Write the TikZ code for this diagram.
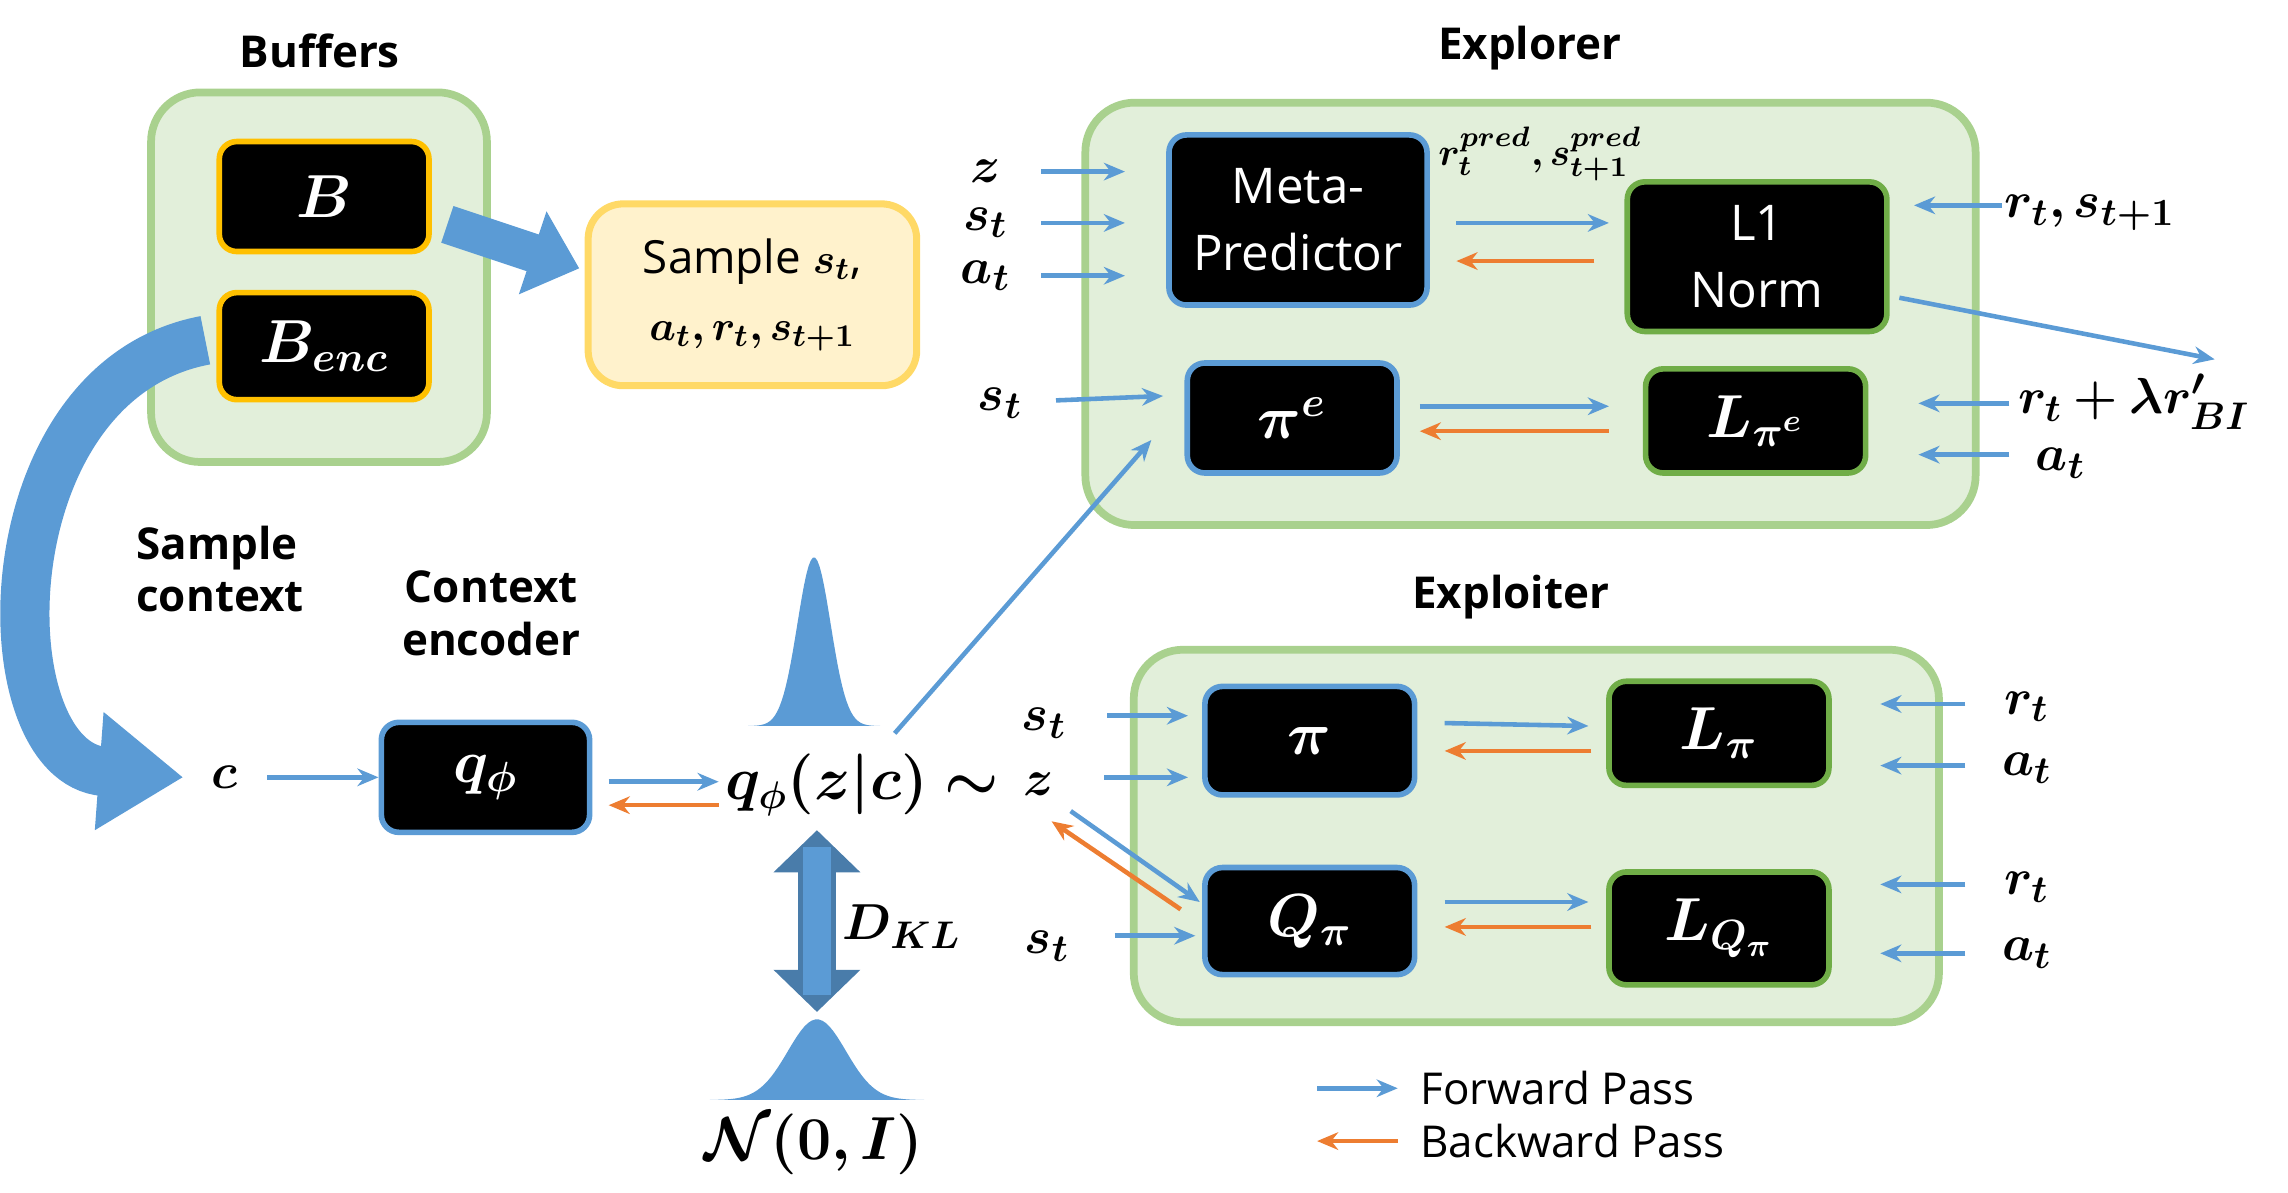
\documentclass[tikz,border=0pt]{standalone}
\usepackage{amsmath,bm}
\usepackage{fontspec}
\setmainfont{Open Sans}
\usetikzlibrary{arrows.meta}
\definecolor{gfill}{HTML}{E2EFDA}
\definecolor{gbord}{HTML}{A9D18E}
\definecolor{bl}{HTML}{5B9BD5}
\definecolor{orr}{HTML}{ED7D31}
\definecolor{gold}{HTML}{FFC000}
\definecolor{grn}{HTML}{70AD47}
\definecolor{ylf}{HTML}{FFF2CC}
\definecolor{ylb}{HTML}{FFD966}
\newcommand{\mb}[1]{$\bm{#1}$}
\begin{document}
\begin{tikzpicture}[x={(0.014667cm,0)},y={(0,-0.014667cm)},
 grp/.style={fill=gfill,draw=gbord,line width=2.2pt,rounded corners=14pt},
 blk/.style={fill=black,line width=1.6pt,rounded corners=5pt,text=white,font=\fontsize{18}{20}\selectfont},
 bb/.style={blk,draw=bl},gb/.style={blk,draw=grn},ob/.style={blk,draw=gold},
 txt/.style={font=\fontsize{12.5}{15}\selectfont\bfseries,align=center},
 mt/.style={font=\fontsize{15}{17}\selectfont},
 fw/.style={draw=bl,line width=1.3pt,-{Stealth[length=6pt,width=5pt]}},
 bw/.style={draw=orr,line width=1.3pt,-{Stealth[length=6pt,width=5pt]}}]
\useasboundingbox (0,0) rectangle (1560,813);
% Buffers
\node[txt] (tbuf) at (218,35) {Buffers};
\draw[grp] (103,63) rectangle (332,315);
\node[ob,minimum width=143*0.014667cm,minimum height=75*0.014667cm] (B) at (221,134) {\mb{B}};
\node[ob,minimum width=143*0.014667cm,minimum height=73*0.014667cm] (Benc) at (221,236) {\mb{B_{enc}}};
\node[fill=ylf,draw=ylb,line width=2pt,rounded corners=10pt,minimum width=224*0.014667cm,minimum height=124*0.014667cm,txt,font=\fontsize{13}{19}\selectfont] (samp) at (513,201) {Sample \mb{s_t},\\ \mb{a_t, r_t, s_{t+1}}};
\draw[bl,line width=11pt,-{Triangle[width=24pt,length=14pt]}] (305,153) -- (395,183);
\draw[bl,line width=14pt,-{Triangle[width=32pt,length=24pt]}] (140,232) .. controls (-10,260) and (-10,520) .. (125,530);
\node[txt,align=left] (sc) at (150,388) {Sample\\context};
\node[txt] (ce) at (335,418) {Context\\encoder};
\node[mt] (c) at (153,530) {\mb{c}};
\node[bb,minimum width=142*0.014667cm,minimum height=75*0.014667cm] (q) at (331,530) {\mb{q_\phi}};
\draw[fw] (c.east)++(12,0) -- (q.west);
\draw[fw] (415,533) -- (490,533);
\draw[bw] (490,549) -- (415,549);
\node[mt,font=\fontsize{16}{18}\selectfont] (qz) at (588,535) {\mb{q_\phi(z|c)\sim}};
\fill[bl] plot[domain=-45:45,samples=60] ({555+\x},{495-115*exp(-(\x/16)^2)}) -- cycle;
\fill[bl] plot[domain=-73:73,samples=60] ({557+\x},{750-55*exp(-(\x/28)^2)}) -- cycle;
\draw[bl!80!black,line width=11pt,{Triangle[width=24pt,length=12pt]}-{Triangle[width=24pt,length=12pt]}] (557,566) -- (557,690);
\draw[bl,line width=8pt,shorten <=2pt,shorten >=2pt] (557,573) -- (557,683);
\node[mt] (dkl) at (615,632) {\mb{D_{KL}}};
\node[mt,font=\fontsize{16}{18}\selectfont] (nn) at (555,780) {\mb{\mathcal{N}(0,I)}};
% Explorer
\node[txt] (texp) at (1043,33) {Explorer};
\draw[grp] (740,70) rectangle (1347,358);
\node[bb,minimum width=176*0.014667cm,minimum height=116*0.014667cm,align=center,font=\fontsize{14}{19}\selectfont] (mp) at (885,150) {Meta-\\Predictor};
\node[gb,minimum width=177*0.014667cm,minimum height=102*0.014667cm,align=center,font=\fontsize{14}{19}\selectfont] (l1) at (1198,175) {L1\\Norm};
\node[bb,minimum width=143*0.014667cm,minimum height=75*0.014667cm] (pie) at (881,285) {\mb{\pi^e}};
\node[gb,minimum width=150*0.014667cm,minimum height=71*0.014667cm] (lpie) at (1197,287) {\mb{L_{\pi^e}}};
\node[mt] (iz) at (672,117) {\mb{z}};
\node[mt] (is) at (672,152) {\mb{s_t}};
\node[mt] (ia) at (672,188) {\mb{a_t}};
\foreach \n/\y in {iz/117,is/152,ia/188} \draw[fw] (710,\y) -- (767,\y);
\node[font=\fontsize{11}{13}\selectfont] (pred) at (1050,105) {\mb{r_t^{pred},s_{t+1}^{pred}}};
\draw[fw] (993,152) -- (1097,152);
\draw[bw] (1087,178) -- (993,178);
\node[mt] (rs) at (1425,145) {\mb{r_t, s_{t+1}}};
\draw[fw] (1365,140) -- (1305,140);
\draw[fw] (1295,203) -- (1510,245);
\node[mt] (is2) at (682,275) {\mb{s_t}};
\draw[fw] (720,273) -- (793,270);
\draw[fw] (968,277) -- (1097,277);
\draw[bw] (1097,294) -- (968,294);
\node[mt] (rl) at (1455,274) {\mb{r_t+\lambda r'_{BI}}};
\node[mt] (ia2) at (1405,316) {\mb{a_t}};
\draw[fw] (1370,275) -- (1308,275);
\draw[fw] (1370,310) -- (1308,310);
\draw[fw] (610,500) -- (785,300);
% Exploiter
\node[txt] (tex) at (1030,407) {Exploiter};
\draw[grp] (773,443) rectangle (1322,697);
\node[bb,minimum width=143*0.014667cm,minimum height=74*0.014667cm] (pi) at (893,505) {\mb{\pi}};
\node[gb,minimum width=150*0.014667cm,minimum height=71*0.014667cm] (lpi) at (1172,500) {\mb{L_\pi}};
\node[bb,minimum width=143*0.014667cm,minimum height=73*0.014667cm] (Q) at (893,628) {\mb{Q_\pi}};
\node[gb,minimum width=150*0.014667cm,minimum height=77*0.014667cm] (lq) at (1172,633) {\mb{L_{Q_\pi}}};
\draw[fw] (985,493) -- (1083,495);
\draw[bw] (1085,512) -- (985,512);
\draw[fw] (985,615) -- (1083,615);
\draw[bw] (1085,632) -- (985,632);
\node[mt] (es) at (712,493) {\mb{s_t}};
\node[mt] (ez) at (708,535) {\mb{z}};
\node[mt] (es2) at (714,645) {\mb{s_t}};
\draw[fw] (755,488) -- (810,488);
\draw[fw] (753,530) -- (810,530);
\draw[fw] (760,638) -- (815,638);
\draw[fw] (730,553) -- (818,615);
\draw[bw] (805,620) -- (717,560);
\node[mt] (r1) at (1382,482) {\mb{r_t}};
\node[mt] (a1) at (1382,524) {\mb{a_t}};
\node[mt] (r2) at (1382,605) {\mb{r_t}};
\node[mt] (a2) at (1382,650) {\mb{a_t}};
\foreach \y in {480,522,603,650} \draw[fw] (1340,\y) -- (1282,\y);
% legend
\draw[fw] (898,742) -- (953,742);
\draw[bw] (953,778) -- (898,778);
\node[txt,anchor=west,font=\fontsize{12.5}{15}\selectfont] (lf) at (960,742) {Forward Pass};
\node[txt,anchor=west,font=\fontsize{12.5}{15}\selectfont] (lb) at (960,778) {Backward Pass};
\end{tikzpicture}
\end{document}
